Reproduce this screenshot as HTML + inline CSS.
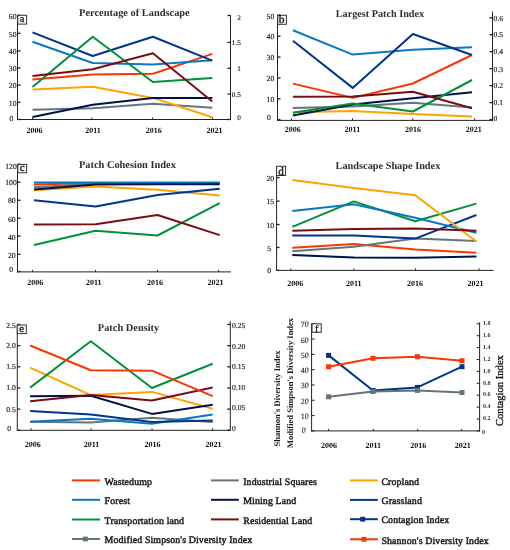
<!DOCTYPE html>
<html><head><meta charset="utf-8"><style>
html,body{margin:0;padding:0;background:#fff;}
body{width:510px;height:550px;overflow:hidden;}
svg{display:block;font-family:"Liberation Serif",serif;will-change:transform;text-rendering:geometricPrecision;}
</style></head><body>
<svg width="510" height="550" viewBox="0 0 510 550">
<rect width="510" height="550" fill="#fff"/>
<line x1="17.5" y1="15" x2="17.5" y2="120.0" stroke="#222" stroke-width="1"/>
<line x1="17.0" y1="119.5" x2="231.0" y2="119.5" stroke="#222" stroke-width="1"/>
<line x1="230.5" y1="15" x2="230.5" y2="120.0" stroke="#222" stroke-width="1"/>
<line x1="17.5" y1="119.5" x2="20.5" y2="119.5" stroke="#222" stroke-width="1.3"/>
<text x="9.6" y="121.041" font-size="7.7" text-anchor="start" font-weight="normal" fill="#111" stroke="#222" stroke-width="0.15">0</text>
<line x1="17.5" y1="102.3" x2="20.5" y2="102.3" stroke="#222" stroke-width="1.3"/>
<text x="8.8" y="105.64099999999999" font-size="7.7" text-anchor="start" font-weight="normal" fill="#111" stroke="#222" stroke-width="0.15">10</text>
<line x1="17.5" y1="85.1" x2="20.5" y2="85.1" stroke="#222" stroke-width="1.3"/>
<text x="8.8" y="88.44099999999999" font-size="7.7" text-anchor="start" font-weight="normal" fill="#111" stroke="#222" stroke-width="0.15">20</text>
<line x1="17.5" y1="67.9" x2="20.5" y2="67.9" stroke="#222" stroke-width="1.3"/>
<text x="8.8" y="71.241" font-size="7.7" text-anchor="start" font-weight="normal" fill="#111" stroke="#222" stroke-width="0.15">30</text>
<line x1="17.5" y1="50.9" x2="20.5" y2="50.9" stroke="#222" stroke-width="1.3"/>
<text x="8.8" y="54.241" font-size="7.7" text-anchor="start" font-weight="normal" fill="#111" stroke="#222" stroke-width="0.15">40</text>
<line x1="17.5" y1="33.3" x2="20.5" y2="33.3" stroke="#222" stroke-width="1.3"/>
<text x="8.8" y="36.64099999999999" font-size="7.7" text-anchor="start" font-weight="normal" fill="#111" stroke="#222" stroke-width="0.15">50</text>
<line x1="17.5" y1="15.3" x2="20.5" y2="15.3" stroke="#222" stroke-width="1.3"/>
<text x="8.8" y="18.841" font-size="7.7" text-anchor="start" font-weight="normal" fill="#111" stroke="#222" stroke-width="0.15">60</text>
<line x1="227.5" y1="119.5" x2="230.5" y2="119.5" stroke="#222" stroke-width="1.3"/>
<text x="240.8" y="119.976" font-size="7.2" text-anchor="end" font-weight="normal" fill="#111" stroke="#222" stroke-width="0.15">0</text>
<line x1="227.5" y1="94.1" x2="230.5" y2="94.1" stroke="#222" stroke-width="1.3"/>
<text x="240.8" y="96.676" font-size="7.2" text-anchor="end" font-weight="normal" fill="#111" stroke="#222" stroke-width="0.15">0.5</text>
<line x1="227.5" y1="68.3" x2="230.5" y2="68.3" stroke="#222" stroke-width="1.3"/>
<text x="240.8" y="70.976" font-size="7.2" text-anchor="end" font-weight="normal" fill="#111" stroke="#222" stroke-width="0.15">1</text>
<line x1="227.5" y1="42.4" x2="230.5" y2="42.4" stroke="#222" stroke-width="1.3"/>
<text x="240.8" y="44.976" font-size="7.2" text-anchor="end" font-weight="normal" fill="#111" stroke="#222" stroke-width="0.15">1.5</text>
<line x1="227.5" y1="15.5" x2="230.5" y2="15.5" stroke="#222" stroke-width="1.3"/>
<text x="240.8" y="19.576" font-size="7.2" text-anchor="end" font-weight="normal" fill="#111" stroke="#222" stroke-width="0.15">2</text>
<line x1="32.5" y1="119.5" x2="32.5" y2="117.5" stroke="#222" stroke-width="1"/>
<line x1="91.8" y1="119.5" x2="91.8" y2="117.5" stroke="#222" stroke-width="1"/>
<line x1="152.5" y1="119.5" x2="152.5" y2="117.5" stroke="#222" stroke-width="1"/>
<line x1="212.5" y1="119.5" x2="212.5" y2="117.5" stroke="#222" stroke-width="1"/>
<text x="34.4" y="132.54" font-size="8" text-anchor="middle" font-weight="bold" fill="#111" >2006</text>
<text x="93" y="132.54" font-size="8" text-anchor="middle" font-weight="bold" fill="#111" >2011</text>
<text x="153.7" y="132.54" font-size="8" text-anchor="middle" font-weight="bold" fill="#111" >2016</text>
<text x="214.5" y="132.54" font-size="8" text-anchor="middle" font-weight="bold" fill="#111" >2021</text>
<text x="79.1" y="16.2" font-size="10.4" text-anchor="start" font-weight="bold" fill="#2e2e2e" >Percentage of Landscape</text>
<line x1="277.5" y1="15.3" x2="277.5" y2="120.9" stroke="#222" stroke-width="1"/>
<line x1="277.0" y1="120.4" x2="493.0" y2="120.4" stroke="#222" stroke-width="1"/>
<line x1="492.5" y1="11.5" x2="492.5" y2="120.9" stroke="#222" stroke-width="1"/>
<line x1="277.5" y1="119.7" x2="280.5" y2="119.7" stroke="#222" stroke-width="1.3"/>
<text x="267.0" y="119.941" font-size="7.7" text-anchor="start" font-weight="normal" fill="#111" stroke="#222" stroke-width="0.15">0</text>
<line x1="277.5" y1="98.82000000000001" x2="280.5" y2="98.82000000000001" stroke="#222" stroke-width="1.3"/>
<text x="266.6" y="101.76100000000001" font-size="7.7" text-anchor="start" font-weight="normal" fill="#111" stroke="#222" stroke-width="0.15">10</text>
<line x1="277.5" y1="77.94" x2="280.5" y2="77.94" stroke="#222" stroke-width="1.3"/>
<text x="266.6" y="80.881" font-size="7.7" text-anchor="start" font-weight="normal" fill="#111" stroke="#222" stroke-width="0.15">20</text>
<line x1="277.5" y1="57.06" x2="280.5" y2="57.06" stroke="#222" stroke-width="1.3"/>
<text x="266.6" y="60.001000000000005" font-size="7.7" text-anchor="start" font-weight="normal" fill="#111" stroke="#222" stroke-width="0.15">30</text>
<line x1="277.5" y1="36.18000000000001" x2="280.5" y2="36.18000000000001" stroke="#222" stroke-width="1.3"/>
<text x="266.6" y="39.12100000000001" font-size="7.7" text-anchor="start" font-weight="normal" fill="#111" stroke="#222" stroke-width="0.15">40</text>
<line x1="277.5" y1="15.300000000000011" x2="280.5" y2="15.300000000000011" stroke="#222" stroke-width="1.3"/>
<text x="266.6" y="18.541" font-size="7.7" text-anchor="start" font-weight="normal" fill="#111" stroke="#222" stroke-width="0.15">50</text>
<line x1="489.5" y1="119.6" x2="492.5" y2="119.6" stroke="#222" stroke-width="1.3"/>
<text x="493.6" y="121.008" font-size="7.6" text-anchor="start" font-weight="normal" fill="#111" stroke="#222" stroke-width="0.15">0</text>
<line x1="489.5" y1="102.61999999999999" x2="492.5" y2="102.61999999999999" stroke="#222" stroke-width="1.3"/>
<text x="493.6" y="104.60799999999999" font-size="7.6" text-anchor="start" font-weight="normal" fill="#111" stroke="#222" stroke-width="0.15">0.1</text>
<line x1="489.5" y1="85.63999999999999" x2="492.5" y2="85.63999999999999" stroke="#222" stroke-width="1.3"/>
<text x="493.6" y="88.208" font-size="7.6" text-anchor="start" font-weight="normal" fill="#111" stroke="#222" stroke-width="0.15">0.2</text>
<line x1="489.5" y1="68.66" x2="492.5" y2="68.66" stroke="#222" stroke-width="1.3"/>
<text x="493.6" y="72.30799999999999" font-size="7.6" text-anchor="start" font-weight="normal" fill="#111" stroke="#222" stroke-width="0.15">0.3</text>
<line x1="489.5" y1="51.67999999999999" x2="492.5" y2="51.67999999999999" stroke="#222" stroke-width="1.3"/>
<text x="493.6" y="54.408" font-size="7.6" text-anchor="start" font-weight="normal" fill="#111" stroke="#222" stroke-width="0.15">0.4</text>
<line x1="489.5" y1="34.69999999999999" x2="492.5" y2="34.69999999999999" stroke="#222" stroke-width="1.3"/>
<text x="493.6" y="36.508" font-size="7.6" text-anchor="start" font-weight="normal" fill="#111" stroke="#222" stroke-width="0.15">0.5</text>
<line x1="489.5" y1="17.72" x2="492.5" y2="17.72" stroke="#222" stroke-width="1.3"/>
<text x="493.6" y="20.608" font-size="7.6" text-anchor="start" font-weight="normal" fill="#111" stroke="#222" stroke-width="0.15">0.6</text>
<line x1="291.5" y1="120.4" x2="291.5" y2="118.4" stroke="#222" stroke-width="1"/>
<line x1="352.5" y1="120.4" x2="352.5" y2="118.4" stroke="#222" stroke-width="1"/>
<line x1="412.8" y1="120.4" x2="412.8" y2="118.4" stroke="#222" stroke-width="1"/>
<line x1="474.7" y1="120.4" x2="474.7" y2="118.4" stroke="#222" stroke-width="1"/>
<text x="292.8" y="132.14" font-size="8" text-anchor="middle" font-weight="bold" fill="#111" >2006</text>
<text x="352.4" y="132.14" font-size="8" text-anchor="middle" font-weight="bold" fill="#111" >2011</text>
<text x="413" y="132.14" font-size="8" text-anchor="middle" font-weight="bold" fill="#111" >2016</text>
<text x="473.8" y="132.14" font-size="8" text-anchor="middle" font-weight="bold" fill="#111" >2021</text>
<text x="335.8" y="16.9" font-size="10.2" text-anchor="start" font-weight="bold" fill="#2e2e2e" >Largest Patch Index</text>
<line x1="17.5" y1="164" x2="17.5" y2="272.4" stroke="#222" stroke-width="1"/>
<line x1="17.0" y1="271.9" x2="230.9" y2="271.9" stroke="#222" stroke-width="1"/>
<line x1="17.5" y1="271.5" x2="20.5" y2="271.5" stroke="#222" stroke-width="1.3"/>
<text x="9.3" y="272.341" font-size="7.7" text-anchor="start" font-weight="normal" fill="#111" stroke="#222" stroke-width="0.15">0</text>
<line x1="17.5" y1="254.3" x2="20.5" y2="254.3" stroke="#222" stroke-width="1.3"/>
<text x="8.0" y="257.741" font-size="7.7" text-anchor="start" font-weight="normal" fill="#111" stroke="#222" stroke-width="0.15">20</text>
<line x1="17.5" y1="236.1" x2="20.5" y2="236.1" stroke="#222" stroke-width="1.3"/>
<text x="8.0" y="239.541" font-size="7.7" text-anchor="start" font-weight="normal" fill="#111" stroke="#222" stroke-width="0.15">40</text>
<line x1="17.5" y1="218.2" x2="20.5" y2="218.2" stroke="#222" stroke-width="1.3"/>
<text x="8.0" y="221.541" font-size="7.7" text-anchor="start" font-weight="normal" fill="#111" stroke="#222" stroke-width="0.15">60</text>
<line x1="17.5" y1="200.3" x2="20.5" y2="200.3" stroke="#222" stroke-width="1.3"/>
<text x="8.0" y="203.341" font-size="7.7" text-anchor="start" font-weight="normal" fill="#111" stroke="#222" stroke-width="0.15">80</text>
<line x1="17.5" y1="182.2" x2="20.5" y2="182.2" stroke="#222" stroke-width="1.3"/>
<text x="5.2" y="184.941" font-size="7.7" text-anchor="start" font-weight="normal" fill="#111" stroke="#222" stroke-width="0.15">100</text>
<line x1="17.5" y1="164.2" x2="20.5" y2="164.2" stroke="#222" stroke-width="1.3"/>
<text x="5.2" y="169.041" font-size="7.7" text-anchor="start" font-weight="normal" fill="#111" stroke="#222" stroke-width="0.15">120</text>
<line x1="32.4" y1="271.9" x2="32.4" y2="269.9" stroke="#222" stroke-width="1"/>
<line x1="95.5" y1="271.9" x2="95.5" y2="269.9" stroke="#222" stroke-width="1"/>
<line x1="157.5" y1="271.9" x2="157.5" y2="269.9" stroke="#222" stroke-width="1"/>
<line x1="218.6" y1="271.9" x2="218.6" y2="269.9" stroke="#222" stroke-width="1"/>
<text x="35.3" y="284.94" font-size="8" text-anchor="middle" font-weight="bold" fill="#111" >2006</text>
<text x="93.7" y="284.94" font-size="8" text-anchor="middle" font-weight="bold" fill="#111" >2011</text>
<text x="155" y="284.94" font-size="8" text-anchor="middle" font-weight="bold" fill="#111" >2016</text>
<text x="215.5" y="284.94" font-size="8" text-anchor="middle" font-weight="bold" fill="#111" >2021</text>
<text x="78.9" y="168.4" font-size="10.4" text-anchor="start" font-weight="bold" fill="#2e2e2e" >Patch Cohesion Index</text>
<line x1="276.6" y1="166.5" x2="276.6" y2="270.9" stroke="#222" stroke-width="1"/>
<line x1="276.1" y1="270.4" x2="493.5" y2="270.4" stroke="#222" stroke-width="1"/>
<line x1="276.6" y1="270.4" x2="279.6" y2="270.4" stroke="#222" stroke-width="1.3"/>
<text x="267.2" y="272.541" font-size="7.7" text-anchor="start" font-weight="normal" fill="#111" stroke="#222" stroke-width="0.15">0</text>
<line x1="276.6" y1="247.5" x2="279.6" y2="247.5" stroke="#222" stroke-width="1.3"/>
<text x="267.2" y="250.541" font-size="7.7" text-anchor="start" font-weight="normal" fill="#111" stroke="#222" stroke-width="0.15">5</text>
<line x1="276.6" y1="224.5" x2="279.6" y2="224.5" stroke="#222" stroke-width="1.3"/>
<text x="266.4" y="227.541" font-size="7.7" text-anchor="start" font-weight="normal" fill="#111" stroke="#222" stroke-width="0.15">10</text>
<line x1="276.6" y1="201.2" x2="279.6" y2="201.2" stroke="#222" stroke-width="1.3"/>
<text x="266.4" y="204.141" font-size="7.7" text-anchor="start" font-weight="normal" fill="#111" stroke="#222" stroke-width="0.15">15</text>
<line x1="276.6" y1="177.6" x2="279.6" y2="177.6" stroke="#222" stroke-width="1.3"/>
<text x="266.4" y="180.541" font-size="7.7" text-anchor="start" font-weight="normal" fill="#111" stroke="#222" stroke-width="0.15">20</text>
<line x1="290.8" y1="270.4" x2="290.8" y2="268.4" stroke="#222" stroke-width="1"/>
<line x1="353.8" y1="270.4" x2="353.8" y2="268.4" stroke="#222" stroke-width="1"/>
<line x1="415.5" y1="270.4" x2="415.5" y2="268.4" stroke="#222" stroke-width="1"/>
<line x1="479" y1="270.4" x2="479" y2="268.4" stroke="#222" stroke-width="1"/>
<text x="295.3" y="285.74" font-size="8" text-anchor="middle" font-weight="bold" fill="#111" >2006</text>
<text x="353.7" y="285.74" font-size="8" text-anchor="middle" font-weight="bold" fill="#111" >2011</text>
<text x="415" y="285.74" font-size="8" text-anchor="middle" font-weight="bold" fill="#111" >2016</text>
<text x="475.5" y="285.74" font-size="8" text-anchor="middle" font-weight="bold" fill="#111" >2021</text>
<text x="335.6" y="168.5" font-size="10.3" text-anchor="start" font-weight="bold" fill="#2e2e2e" >Landscape Shape Index</text>
<line x1="17.3" y1="324.4" x2="17.3" y2="430.8" stroke="#222" stroke-width="1"/>
<line x1="16.8" y1="430.3" x2="230.8" y2="430.3" stroke="#222" stroke-width="1"/>
<line x1="230.3" y1="321.3" x2="230.3" y2="430.8" stroke="#222" stroke-width="1"/>
<line x1="17.3" y1="430.3" x2="20.3" y2="430.3" stroke="#222" stroke-width="1.3"/>
<text x="7.2" y="431.041" font-size="7.7" text-anchor="start" font-weight="normal" fill="#111" stroke="#222" stroke-width="0.15">0</text>
<line x1="17.3" y1="409.13" x2="20.3" y2="409.13" stroke="#222" stroke-width="1.3"/>
<text x="6.2" y="411.741" font-size="7.7" text-anchor="start" font-weight="normal" fill="#111" stroke="#222" stroke-width="0.15">0.5</text>
<line x1="17.3" y1="387.96000000000004" x2="20.3" y2="387.96000000000004" stroke="#222" stroke-width="1.3"/>
<text x="6.2" y="390.241" font-size="7.7" text-anchor="start" font-weight="normal" fill="#111" stroke="#222" stroke-width="0.15">1.0</text>
<line x1="17.3" y1="366.79" x2="20.3" y2="366.79" stroke="#222" stroke-width="1.3"/>
<text x="6.2" y="369.441" font-size="7.7" text-anchor="start" font-weight="normal" fill="#111" stroke="#222" stroke-width="0.15">1.5</text>
<line x1="17.3" y1="345.62" x2="20.3" y2="345.62" stroke="#222" stroke-width="1.3"/>
<text x="6.2" y="348.441" font-size="7.7" text-anchor="start" font-weight="normal" fill="#111" stroke="#222" stroke-width="0.15">2.0</text>
<line x1="17.3" y1="324.45" x2="20.3" y2="324.45" stroke="#222" stroke-width="1.3"/>
<text x="6.2" y="327.741" font-size="7.7" text-anchor="start" font-weight="normal" fill="#111" stroke="#222" stroke-width="0.15">2.5</text>
<line x1="227.3" y1="430.3" x2="230.3" y2="430.3" stroke="#222" stroke-width="1.3"/>
<text x="232" y="431.40799999999996" font-size="7.6" text-anchor="start" font-weight="normal" fill="#111" stroke="#222" stroke-width="0.15">0</text>
<line x1="227.3" y1="409.13" x2="230.3" y2="409.13" stroke="#222" stroke-width="1.3"/>
<text x="232" y="410.308" font-size="7.6" text-anchor="start" font-weight="normal" fill="#111" stroke="#222" stroke-width="0.15">0.05</text>
<line x1="227.3" y1="387.96000000000004" x2="230.3" y2="387.96000000000004" stroke="#222" stroke-width="1.3"/>
<text x="232" y="390.008" font-size="7.6" text-anchor="start" font-weight="normal" fill="#111" stroke="#222" stroke-width="0.15">0.10</text>
<line x1="227.3" y1="366.79" x2="230.3" y2="366.79" stroke="#222" stroke-width="1.3"/>
<text x="232" y="369.108" font-size="7.6" text-anchor="start" font-weight="normal" fill="#111" stroke="#222" stroke-width="0.15">0.15</text>
<line x1="227.3" y1="345.62" x2="230.3" y2="345.62" stroke="#222" stroke-width="1.3"/>
<text x="232" y="348.608" font-size="7.6" text-anchor="start" font-weight="normal" fill="#111" stroke="#222" stroke-width="0.15">0.20</text>
<line x1="227.3" y1="324.45" x2="230.3" y2="324.45" stroke="#222" stroke-width="1.3"/>
<text x="232" y="327.508" font-size="7.6" text-anchor="start" font-weight="normal" fill="#111" stroke="#222" stroke-width="0.15">0.25</text>
<line x1="31.1" y1="430.3" x2="31.1" y2="428.3" stroke="#222" stroke-width="1"/>
<line x1="91" y1="430.3" x2="91" y2="428.3" stroke="#222" stroke-width="1"/>
<line x1="152" y1="430.3" x2="152" y2="428.3" stroke="#222" stroke-width="1"/>
<line x1="212.6" y1="430.3" x2="212.6" y2="428.3" stroke="#222" stroke-width="1"/>
<text x="32.8" y="447.14" font-size="8" text-anchor="middle" font-weight="bold" fill="#111" >2006</text>
<text x="91.6" y="447.14" font-size="8" text-anchor="middle" font-weight="bold" fill="#111" >2011</text>
<text x="152.5" y="447.14" font-size="8" text-anchor="middle" font-weight="bold" fill="#111" >2016</text>
<text x="213.4" y="447.14" font-size="8" text-anchor="middle" font-weight="bold" fill="#111" >2021</text>
<text x="97.8" y="331.2" font-size="10.4" text-anchor="start" font-weight="bold" fill="#2e2e2e" >Patch Density</text>
<line x1="311.6" y1="323.8" x2="311.6" y2="431.4" stroke="#222" stroke-width="1"/>
<line x1="311.1" y1="430.9" x2="480.1" y2="430.9" stroke="#222" stroke-width="1"/>
<line x1="479.6" y1="322.3" x2="479.6" y2="431.4" stroke="#222" stroke-width="1"/>
<line x1="311.6" y1="430.9" x2="314.6" y2="430.9" stroke="#222" stroke-width="1"/>
<text x="301.8" y="433.44" font-size="8" text-anchor="start" font-weight="normal" fill="#222" stroke="#222" stroke-width="0.12">0</text>
<line x1="311.6" y1="415.59" x2="314.6" y2="415.59" stroke="#222" stroke-width="1"/>
<text x="300.8" y="418.84" font-size="8" text-anchor="start" font-weight="normal" fill="#222" stroke="#222" stroke-width="0.12">10</text>
<line x1="311.6" y1="400.28" x2="314.6" y2="400.28" stroke="#222" stroke-width="1"/>
<text x="300.8" y="404.14" font-size="8" text-anchor="start" font-weight="normal" fill="#222" stroke="#222" stroke-width="0.12">20</text>
<line x1="311.6" y1="384.96999999999997" x2="314.6" y2="384.96999999999997" stroke="#222" stroke-width="1"/>
<text x="300.8" y="388.14" font-size="8" text-anchor="start" font-weight="normal" fill="#222" stroke="#222" stroke-width="0.12">30</text>
<line x1="311.6" y1="369.65999999999997" x2="314.6" y2="369.65999999999997" stroke="#222" stroke-width="1"/>
<text x="300.8" y="373.34" font-size="8" text-anchor="start" font-weight="normal" fill="#222" stroke="#222" stroke-width="0.12">40</text>
<line x1="311.6" y1="354.34999999999997" x2="314.6" y2="354.34999999999997" stroke="#222" stroke-width="1"/>
<text x="300.8" y="358.03999999999996" font-size="8" text-anchor="start" font-weight="normal" fill="#222" stroke="#222" stroke-width="0.12">50</text>
<line x1="311.6" y1="339.03999999999996" x2="314.6" y2="339.03999999999996" stroke="#222" stroke-width="1"/>
<text x="300.8" y="342.74" font-size="8" text-anchor="start" font-weight="normal" fill="#222" stroke="#222" stroke-width="0.12">60</text>
<line x1="311.6" y1="323.72999999999996" x2="314.6" y2="323.72999999999996" stroke="#222" stroke-width="1"/>
<text x="300.8" y="326.84" font-size="8" text-anchor="start" font-weight="normal" fill="#222" stroke="#222" stroke-width="0.12">70</text>
<line x1="476.6" y1="430.9" x2="479.6" y2="430.9" stroke="#222" stroke-width="1"/>
<text x="482.0" y="433.88" font-size="6" text-anchor="start" font-weight="bold" fill="#333" >0</text>
<line x1="476.6" y1="419.0" x2="479.6" y2="419.0" stroke="#222" stroke-width="1"/>
<text x="483.0" y="420.28000000000003" font-size="6" text-anchor="start" font-weight="bold" fill="#333" >0.2</text>
<line x1="476.6" y1="407.09999999999997" x2="479.6" y2="407.09999999999997" stroke="#222" stroke-width="1"/>
<text x="483.0" y="408.38" font-size="6" text-anchor="start" font-weight="bold" fill="#333" >0.4</text>
<line x1="476.6" y1="395.2" x2="479.6" y2="395.2" stroke="#222" stroke-width="1"/>
<text x="483.0" y="396.48" font-size="6" text-anchor="start" font-weight="bold" fill="#333" >0.6</text>
<line x1="476.6" y1="383.29999999999995" x2="479.6" y2="383.29999999999995" stroke="#222" stroke-width="1"/>
<text x="483.0" y="384.58" font-size="6" text-anchor="start" font-weight="bold" fill="#333" >0.8</text>
<line x1="476.6" y1="371.4" x2="479.6" y2="371.4" stroke="#222" stroke-width="1"/>
<text x="483.0" y="372.68" font-size="6" text-anchor="start" font-weight="bold" fill="#333" >1.0</text>
<line x1="476.6" y1="359.5" x2="479.6" y2="359.5" stroke="#222" stroke-width="1"/>
<text x="483.0" y="360.78000000000003" font-size="6" text-anchor="start" font-weight="bold" fill="#333" >1.2</text>
<line x1="476.6" y1="347.59999999999997" x2="479.6" y2="347.59999999999997" stroke="#222" stroke-width="1"/>
<text x="483.0" y="348.88" font-size="6" text-anchor="start" font-weight="bold" fill="#333" >1.4</text>
<line x1="476.6" y1="335.7" x2="479.6" y2="335.7" stroke="#222" stroke-width="1"/>
<text x="483.0" y="336.98" font-size="6" text-anchor="start" font-weight="bold" fill="#333" >1.6</text>
<line x1="476.6" y1="323.79999999999995" x2="479.6" y2="323.79999999999995" stroke="#222" stroke-width="1"/>
<text x="483.0" y="325.08" font-size="6" text-anchor="start" font-weight="bold" fill="#333" >1.8</text>
<line x1="328.4" y1="430.9" x2="328.4" y2="428.9" stroke="#222" stroke-width="1"/>
<line x1="373.3" y1="430.9" x2="373.3" y2="428.9" stroke="#222" stroke-width="1"/>
<line x1="417.7" y1="430.9" x2="417.7" y2="428.9" stroke="#222" stroke-width="1"/>
<line x1="461.7" y1="430.9" x2="461.7" y2="428.9" stroke="#222" stroke-width="1"/>
<text x="329" y="448.34" font-size="8" text-anchor="middle" font-weight="bold" fill="#111" >2006</text>
<text x="373.3" y="448.34" font-size="8" text-anchor="middle" font-weight="bold" fill="#111" >2011</text>
<text x="418.3" y="448.34" font-size="8" text-anchor="middle" font-weight="bold" fill="#111" >2016</text>
<text x="462.7" y="448.34" font-size="8" text-anchor="middle" font-weight="bold" fill="#111" >2021</text>
<text transform="translate(279.8,446.4) rotate(-90)" font-size="8.5" font-weight="bold" fill="#1a1a1a">Shannon's Diversity Index</text>
<text transform="translate(292.8,448) rotate(-90)" font-size="8.5" font-weight="bold" fill="#1a1a1a">Modified Simpson's Diversity Index</text>
<text transform="translate(502.6,426) rotate(-90)" font-size="10.6" fill="#111" stroke="#111" stroke-width="0.3">Contagion Index</text>
<polyline points="32.5,79.5 92.7,74.4 152.9,73.8 212.3,53.9" fill="none" stroke="#fa3602" stroke-width="2.0" stroke-linejoin="round" stroke-linecap="butt"/>
<polyline points="32.5,109.8 92.7,108.3 152.9,103.8 212.3,107.7" fill="none" stroke="#66757c" stroke-width="2.0" stroke-linejoin="round" stroke-linecap="butt"/>
<polyline points="32.5,89.5 92.7,86.8 152.9,97.9 212.3,117.3" fill="none" stroke="#ffa300" stroke-width="2.0" stroke-linejoin="round" stroke-linecap="butt"/>
<polyline points="32.5,41.8 92.7,63.0 152.9,64.5 212.3,60.2" fill="none" stroke="#0a78c0" stroke-width="2.0" stroke-linejoin="round" stroke-linecap="butt"/>
<polyline points="32.5,117.1 92.7,104.8 152.9,97.9 212.3,97.9" fill="none" stroke="#00124c" stroke-width="2.0" stroke-linejoin="round" stroke-linecap="butt"/>
<polyline points="32.5,32.4 92.7,56.0 152.9,36.8 212.3,60.6" fill="none" stroke="#00348f" stroke-width="2.0" stroke-linejoin="round" stroke-linecap="butt"/>
<polyline points="32.5,86.9 92.7,36.7 152.9,82.0 212.3,78.0" fill="none" stroke="#00913a" stroke-width="2.0" stroke-linejoin="round" stroke-linecap="butt"/>
<polyline points="32.5,75.9 92.7,69.2 152.9,53.3 212.3,101.5" fill="none" stroke="#780e14" stroke-width="2.0" stroke-linejoin="round" stroke-linecap="butt"/>
<polyline points="292.9,83.6 352.7,97.9 412.9,83.5 472.0,55.0" fill="none" stroke="#fa3602" stroke-width="2.0" stroke-linejoin="round" stroke-linecap="butt"/>
<polyline points="292.9,107.9 352.7,106.4 412.9,102.8 472.0,107.5" fill="none" stroke="#66757c" stroke-width="2.0" stroke-linejoin="round" stroke-linecap="butt"/>
<polyline points="292.9,112.2 352.7,111.0 412.9,114.0 472.0,116.6" fill="none" stroke="#ffa300" stroke-width="2.0" stroke-linejoin="round" stroke-linecap="butt"/>
<polyline points="292.9,30.3 352.7,54.6 412.9,49.7 472.0,47.2" fill="none" stroke="#0a78c0" stroke-width="2.0" stroke-linejoin="round" stroke-linecap="butt"/>
<polyline points="292.9,115.5 352.7,104.6 412.9,98.2 472.0,92.2" fill="none" stroke="#00124c" stroke-width="2.0" stroke-linejoin="round" stroke-linecap="butt"/>
<polyline points="292.9,40.7 352.7,87.9 412.9,34.0 472.0,55.0" fill="none" stroke="#00348f" stroke-width="2.0" stroke-linejoin="round" stroke-linecap="butt"/>
<polyline points="292.9,112.7 352.7,103.5 412.9,111.5 472.0,80.0" fill="none" stroke="#00913a" stroke-width="2.0" stroke-linejoin="round" stroke-linecap="butt"/>
<polyline points="292.9,96.8 352.7,96.4 412.9,91.8 472.0,108.3" fill="none" stroke="#780e14" stroke-width="2.0" stroke-linejoin="round" stroke-linecap="butt"/>
<polyline points="34.0,184.5 95.5,183.0 157.5,183.0 219.7,183.0" fill="none" stroke="#fa3602" stroke-width="2.0" stroke-linejoin="round" stroke-linecap="butt"/>
<polyline points="34.0,187.3 95.5,183.8 157.5,183.6 219.7,183.6" fill="none" stroke="#66757c" stroke-width="2.0" stroke-linejoin="round" stroke-linecap="butt"/>
<polyline points="34.0,190.3 95.5,186.6 157.5,189.8 219.7,195.6" fill="none" stroke="#ffa300" stroke-width="2.0" stroke-linejoin="round" stroke-linecap="butt"/>
<polyline points="34.0,182.6 95.5,182.6 157.5,182.6 219.7,182.6" fill="none" stroke="#0a78c0" stroke-width="2.0" stroke-linejoin="round" stroke-linecap="butt"/>
<polyline points="34.0,189.6 95.5,184.4 157.5,184.3 219.7,184.3" fill="none" stroke="#00124c" stroke-width="2.0" stroke-linejoin="round" stroke-linecap="butt"/>
<polyline points="34.0,200.3 95.5,206.4 157.5,194.9 219.7,188.7" fill="none" stroke="#00348f" stroke-width="2.0" stroke-linejoin="round" stroke-linecap="butt"/>
<polyline points="34.0,245.0 95.5,230.8 157.5,235.5 219.7,203.1" fill="none" stroke="#00913a" stroke-width="2.0" stroke-linejoin="round" stroke-linecap="butt"/>
<polyline points="34.0,224.5 95.5,224.3 157.5,215.0 219.7,235.1" fill="none" stroke="#780e14" stroke-width="2.0" stroke-linejoin="round" stroke-linecap="butt"/>
<polyline points="292.3,255.1 353.8,257.4 415.2,257.8 476.4,256.6" fill="none" stroke="#00124c" stroke-width="2.0" stroke-linejoin="round" stroke-linecap="butt"/>
<polyline points="292.3,247.8 353.8,244.1 415.2,249.4 476.4,252.8" fill="none" stroke="#fa3602" stroke-width="2.0" stroke-linejoin="round" stroke-linecap="butt"/>
<polyline points="292.3,251.2 353.8,246.7 415.2,238.6 476.4,240.9" fill="none" stroke="#66757c" stroke-width="2.0" stroke-linejoin="round" stroke-linecap="butt"/>
<polyline points="292.3,235.5 353.8,235.5 415.2,238.6 476.4,215.0" fill="none" stroke="#00348f" stroke-width="2.0" stroke-linejoin="round" stroke-linecap="butt"/>
<polyline points="292.3,226.9 353.8,201.4 415.2,221.3 476.4,203.6" fill="none" stroke="#00913a" stroke-width="2.0" stroke-linejoin="round" stroke-linecap="butt"/>
<polyline points="292.3,211.1 353.8,204.2 415.2,217.8 476.4,232.7" fill="none" stroke="#0a78c0" stroke-width="2.0" stroke-linejoin="round" stroke-linecap="butt"/>
<polyline points="292.3,180.1 353.8,188.0 415.2,195.2 476.4,241.5" fill="none" stroke="#ffa300" stroke-width="2.0" stroke-linejoin="round" stroke-linecap="butt"/>
<polyline points="292.3,230.8 353.8,229.0 415.2,228.5 476.4,230.8" fill="none" stroke="#780e14" stroke-width="2.0" stroke-linejoin="round" stroke-linecap="butt"/>
<polyline points="30.1,421.7 90.8,422.5 151.9,417.8 212.7,422.1" fill="none" stroke="#66757c" stroke-width="2.0" stroke-linejoin="round" stroke-linecap="butt"/>
<polyline points="30.1,367.7 90.8,395.1 151.9,391.9 212.7,408.7" fill="none" stroke="#ffa300" stroke-width="2.0" stroke-linejoin="round" stroke-linecap="butt"/>
<polyline points="30.1,421.7 90.8,418.8 151.9,423.8 212.7,414.5" fill="none" stroke="#0a78c0" stroke-width="2.0" stroke-linejoin="round" stroke-linecap="butt"/>
<polyline points="30.1,396.2 90.8,395.7 151.9,413.9 212.7,404.8" fill="none" stroke="#00124c" stroke-width="2.0" stroke-linejoin="round" stroke-linecap="butt"/>
<polyline points="30.1,410.9 90.8,414.5 151.9,422.1 212.7,420.4" fill="none" stroke="#00348f" stroke-width="2.0" stroke-linejoin="round" stroke-linecap="butt"/>
<polyline points="30.1,387.6 90.8,341.2 151.9,388.0 212.7,363.8" fill="none" stroke="#00913a" stroke-width="2.0" stroke-linejoin="round" stroke-linecap="butt"/>
<polyline points="30.1,401.2 90.8,395.1 151.9,400.5 212.7,387.6" fill="none" stroke="#780e14" stroke-width="2.0" stroke-linejoin="round" stroke-linecap="butt"/>
<polyline points="30.1,345.5 90.8,370.3 151.9,370.7 212.7,396.2" fill="none" stroke="#fa3602" stroke-width="2.0" stroke-linejoin="round" stroke-linecap="butt"/>
<polyline points="328.6,355.4 373.0,390.5 417.4,387.4 462.0,366.7" fill="none" stroke="#00348f" stroke-width="2.0" stroke-linejoin="round" stroke-linecap="butt"/>
<rect x="326.1" y="352.9" width="5" height="5" fill="#00348f"/>
<rect x="370.5" y="388.0" width="5" height="5" fill="#00348f"/>
<rect x="414.9" y="384.9" width="5" height="5" fill="#00348f"/>
<rect x="459.5" y="364.2" width="5" height="5" fill="#00348f"/>
<polyline points="328.6,396.8 373.0,391.5 417.4,390.4 462.0,392.5" fill="none" stroke="#66757c" stroke-width="2.0" stroke-linejoin="round" stroke-linecap="butt"/>
<rect x="326.1" y="394.3" width="5" height="5" fill="#66757c"/>
<rect x="370.5" y="389.0" width="5" height="5" fill="#66757c"/>
<rect x="414.9" y="387.9" width="5" height="5" fill="#66757c"/>
<rect x="459.5" y="390.0" width="5" height="5" fill="#66757c"/>
<polyline points="328.6,366.8 373.0,358.3 417.4,356.7 462.0,360.7" fill="none" stroke="#fa3602" stroke-width="2.0" stroke-linejoin="round" stroke-linecap="butt"/>
<rect x="326.1" y="364.3" width="5" height="5" fill="#fa3602"/>
<rect x="370.5" y="355.8" width="5" height="5" fill="#fa3602"/>
<rect x="414.9" y="354.2" width="5" height="5" fill="#fa3602"/>
<rect x="459.5" y="358.2" width="5" height="5" fill="#fa3602"/>
<rect x="17.8" y="15.3" width="8.8" height="8.8" fill="#fff" stroke="#333" stroke-width="1"/>
<text x="22.200000000000003" y="21.8" font-size="10.5" text-anchor="middle" font-weight="normal" fill="#111" stroke="#111" stroke-width="0.3">a</text>
<rect x="277.8" y="15.3" width="8.599999999999966" height="9.0" fill="#fff" stroke="#333" stroke-width="1"/>
<text x="281.5" y="23.400000000000002" font-size="11.5" text-anchor="middle" font-weight="normal" fill="#111" stroke="#111" stroke-width="0.3">b</text>
<rect x="17.8" y="164.4" width="8.8" height="8.400000000000006" fill="#fff" stroke="#333" stroke-width="1"/>
<text x="22.200000000000003" y="171.0" font-size="11" text-anchor="middle" font-weight="normal" fill="#111" stroke="#111" stroke-width="0.3">c</text>
<rect x="276.6" y="166.3" width="9.0" height="9.199999999999989" fill="#fff" stroke="#333" stroke-width="1"/>
<text x="281.1" y="174.7" font-size="11.2" text-anchor="middle" font-weight="normal" fill="#111" stroke="#111" stroke-width="0.3">d</text>
<rect x="17.3" y="325" width="9.0" height="8.600000000000023" fill="#fff" stroke="#333" stroke-width="1"/>
<text x="21.8" y="331.8" font-size="11" text-anchor="middle" font-weight="normal" fill="#111" stroke="#111" stroke-width="0.3">e</text>
<rect x="312" y="323.8" width="9.199999999999989" height="8.5" fill="#fff" stroke="#333" stroke-width="1"/>
<text x="316.6" y="331.6" font-size="9.8" text-anchor="middle" font-weight="normal" fill="#111" stroke="#111" stroke-width="0.3">f</text>
<line x1="72" y1="480.4" x2="100" y2="480.4" stroke="#fa3602" stroke-width="2"/>
<text x="104.6" y="484.59999999999997" font-size="9.9" text-anchor="start" font-weight="normal" fill="#1a1a1a" stroke="#1a1a1a" stroke-width="0.45" letter-spacing="0.12">Wastedump</text>
<line x1="72" y1="499.8" x2="100" y2="499.8" stroke="#0a78c0" stroke-width="2"/>
<text x="104.6" y="504.0" font-size="9.9" text-anchor="start" font-weight="normal" fill="#1a1a1a" stroke="#1a1a1a" stroke-width="0.45" letter-spacing="0.12">Forest</text>
<line x1="72" y1="519.5" x2="100" y2="519.5" stroke="#00913a" stroke-width="2"/>
<text x="104.6" y="523.7" font-size="9.9" text-anchor="start" font-weight="normal" fill="#1a1a1a" stroke="#1a1a1a" stroke-width="0.45" letter-spacing="0.12">Transportation land</text>
<line x1="72" y1="539.0" x2="100" y2="539.0" stroke="#66757c" stroke-width="2"/>
<rect x="82.9" y="536.6" width="5" height="4.8" fill="#66757c"/>
<text x="104.6" y="543.2" font-size="9.9" text-anchor="start" font-weight="normal" fill="#1a1a1a" stroke="#1a1a1a" stroke-width="0.45" letter-spacing="0.12">Modified Simpson's Diversity Index</text>
<line x1="211" y1="480.4" x2="238.8" y2="480.4" stroke="#66757c" stroke-width="2"/>
<text x="243.2" y="484.59999999999997" font-size="9.9" text-anchor="start" font-weight="normal" fill="#1a1a1a" stroke="#1a1a1a" stroke-width="0.45" letter-spacing="0.12">Industrial Squares</text>
<line x1="211" y1="499.8" x2="238.8" y2="499.8" stroke="#00124c" stroke-width="2"/>
<text x="243.2" y="504.0" font-size="9.9" text-anchor="start" font-weight="normal" fill="#1a1a1a" stroke="#1a1a1a" stroke-width="0.45" letter-spacing="0.12">Mining Land</text>
<line x1="211" y1="519.4" x2="238.8" y2="519.4" stroke="#780e14" stroke-width="2"/>
<text x="243.2" y="523.6" font-size="9.9" text-anchor="start" font-weight="normal" fill="#1a1a1a" stroke="#1a1a1a" stroke-width="0.45" letter-spacing="0.12">Residential Land</text>
<line x1="350" y1="480.4" x2="377.8" y2="480.4" stroke="#ffa300" stroke-width="2"/>
<text x="381.4" y="484.59999999999997" font-size="9.9" text-anchor="start" font-weight="normal" fill="#1a1a1a" stroke="#1a1a1a" stroke-width="0.45" letter-spacing="0.12">Cropland</text>
<line x1="350" y1="499.9" x2="377.8" y2="499.9" stroke="#00348f" stroke-width="2"/>
<text x="381.4" y="504.09999999999997" font-size="9.9" text-anchor="start" font-weight="normal" fill="#1a1a1a" stroke="#1a1a1a" stroke-width="0.45" letter-spacing="0.12">Grassland</text>
<line x1="350" y1="519.2" x2="377.8" y2="519.2" stroke="#00348f" stroke-width="2"/>
<rect x="360.2" y="516.8" width="5" height="4.8" fill="#00348f"/>
<text x="381.4" y="523.4000000000001" font-size="9.9" text-anchor="start" font-weight="normal" fill="#1a1a1a" stroke="#1a1a1a" stroke-width="0.45" letter-spacing="0.12">Contagion Index</text>
<line x1="350" y1="539.3" x2="377.8" y2="539.3" stroke="#fa3602" stroke-width="2"/>
<rect x="361.4" y="536.9" width="5" height="4.8" fill="#fa3602"/>
<text x="381.4" y="543.5" font-size="9.9" text-anchor="start" font-weight="normal" fill="#1a1a1a" stroke="#1a1a1a" stroke-width="0.45" letter-spacing="0.12">Shannon's Diversity Index</text>
</svg>
</body></html>
